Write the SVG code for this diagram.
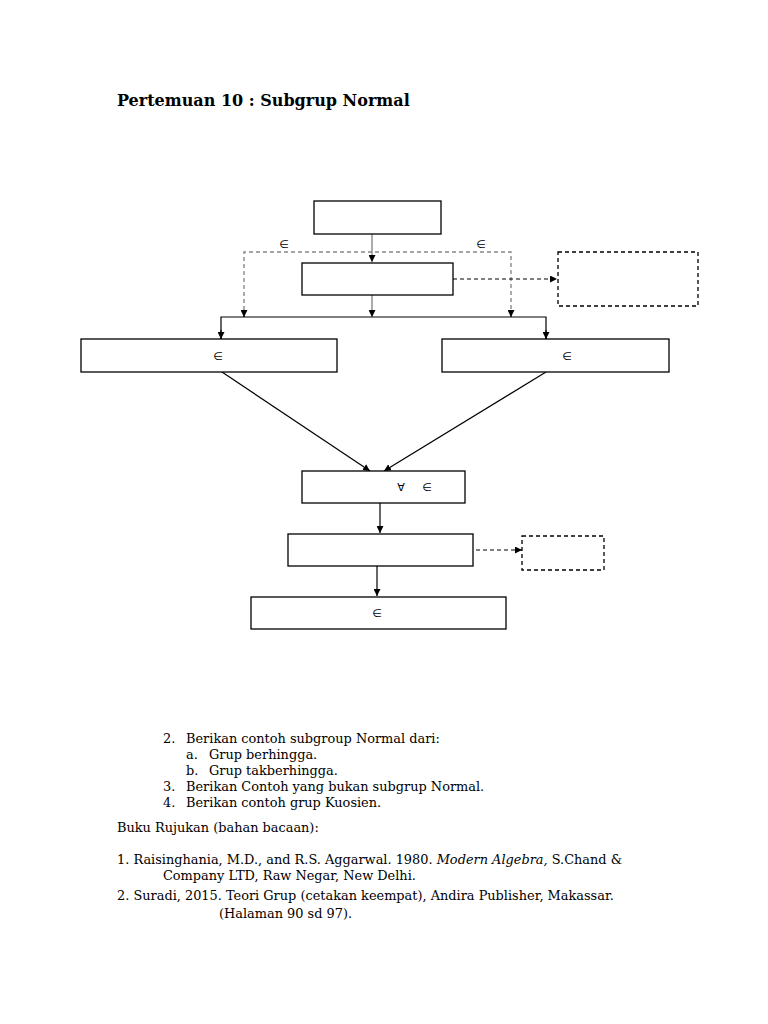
<svg xmlns="http://www.w3.org/2000/svg" width="768" height="1024" viewBox="0 0 768 1024">
<style>
.box{fill:#fff;stroke:#000;stroke-width:1.3}
.dbox{fill:#fff;stroke:#000;stroke-width:1.3;stroke-dasharray:4,3}
.ln{fill:none;stroke:#000;stroke-width:1.2}
.gl{fill:none;stroke:#888;stroke-width:1.4}
.gd{fill:none;stroke:#888;stroke-width:1.4;stroke-dasharray:4,3}
.dl{fill:none;stroke:#000;stroke-width:1.2;stroke-dasharray:4,3}
.sym{font-family:"DejaVu Sans",sans-serif;font-size:11px;fill:#000;text-anchor:middle}
.body{font-family:"DejaVu Serif",serif;font-size:12.9px;fill:#000}
.title{font-family:"DejaVu Serif",serif;font-size:16px;font-weight:bold;fill:#000}
</style>
<defs>
<marker id="a" viewBox="0 0 10 10" refX="10" refY="5" markerWidth="7" markerHeight="7" orient="auto" markerUnits="userSpaceOnUse"><path d="M0,0L10,5L0,10z" fill="#000"/></marker>
</defs>
<rect width="768" height="1024" fill="#fff"/>
<text class="title" x="117" y="106">Pertemuan 10 : Subgrup Normal</text>

<g id="connectors">
<line class="gl" x1="372" y1="234" x2="372" y2="262" marker-end="url(#a)"/>
<path class="gd" d="M244,317V252H511V317"/>
<line class="ln" x1="244" y1="310" x2="244" y2="317" marker-end="url(#a)"/>
<line class="ln" x1="511" y1="310" x2="511" y2="317" marker-end="url(#a)"/>
<line class="gl" x1="372" y1="295" x2="372" y2="317" marker-end="url(#a)"/>
<path class="ln" d="M221,339V317H546V339"/>
<line class="ln" x1="221" y1="330" x2="221" y2="339" marker-end="url(#a)"/>
<line class="ln" x1="546" y1="330" x2="546" y2="339" marker-end="url(#a)"/>
<line class="dl" x1="453" y1="279" x2="557" y2="279" marker-end="url(#a)"/>
<line class="ln" x1="222" y1="372" x2="370" y2="471" marker-end="url(#a)"/>
<line class="ln" x1="546" y1="372" x2="384" y2="471" marker-end="url(#a)"/>
<line class="ln" x1="380" y1="503" x2="380" y2="533" marker-end="url(#a)"/>
<line class="dl" x1="476" y1="550" x2="522" y2="550" marker-end="url(#a)"/>
<line class="ln" x1="377" y1="566" x2="377" y2="596" marker-end="url(#a)"/>
<text class="sym" x="284" y="248">∈</text>
<text class="sym" x="481" y="248">∈</text>
</g>

<g id="n1"><rect class="box" x="314" y="201" width="127" height="33"/></g>
<g id="n2"><rect class="box" x="302" y="263" width="151" height="32"/></g>
<g id="n3"><rect class="dbox" x="558" y="252" width="140" height="54"/></g>
<g id="n4"><rect class="box" x="81" y="339" width="256" height="33"/><text class="sym" x="218" y="360">∈</text></g>
<g id="n5"><rect class="box" x="442" y="339" width="227" height="33"/><text class="sym" x="567" y="360">∈</text></g>
<g id="n6"><rect class="box" x="302" y="471" width="163" height="32"/><text class="sym" x="401" y="491">∀</text><text class="sym" x="427" y="491">∈</text></g>
<g id="n7"><rect class="box" x="288" y="534" width="185" height="32"/></g>
<g id="n8"><rect class="dbox" x="522" y="536" width="82" height="34"/></g>
<g id="n9"><rect class="box" x="251" y="597" width="255" height="32"/><text class="sym" x="377" y="617">∈</text></g>

<g id="text">
<text class="body" x="163" y="743">2.</text><text class="body" x="186" y="743">Berikan contoh subgroup Normal dari:</text>
<text class="body" x="186" y="759">a.</text><text class="body" x="209" y="759">Grup berhingga.</text>
<text class="body" x="186" y="775">b.</text><text class="body" x="209" y="775">Grup takberhingga.</text>
<text class="body" x="163" y="791">3.</text><text class="body" x="186" y="791">Berikan Contoh yang bukan subgrup Normal.</text>
<text class="body" x="163" y="807">4.</text><text class="body" x="186" y="807">Berikan contoh grup Kuosien.</text>
<text class="body" x="117" y="832">Buku Rujukan (bahan bacaan):</text>
<text class="body" x="117" y="864">1. Raisinghania, M.D., and R.S. Aggarwal. 1980.  <tspan font-style="italic">Modern Algebra,</tspan> S.Chand &amp;</text>
<text class="body" x="163" y="880">Company LTD, Raw Negar, New Delhi.</text>
<text class="body" x="117" y="900">2. Suradi, 2015. Teori Grup (cetakan keempat), Andira Publisher, Makassar.</text>
<text class="body" x="219" y="918">(Halaman 90 sd 97).</text>
</g>
</svg>
